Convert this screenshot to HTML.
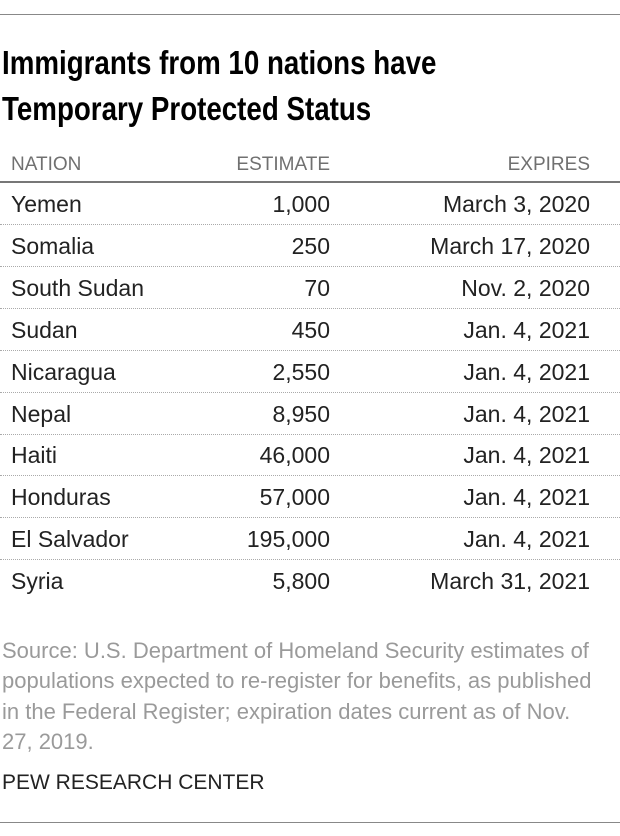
<!DOCTYPE html>
<html><head><meta charset="utf-8">
<style>
html,body{margin:0;padding:0;background:#fff;}
body{width:620px;height:836px;position:relative;overflow:hidden;font-family:"Liberation Sans",sans-serif;}
.rule{position:absolute;left:0;width:620px;}
.title{position:absolute;left:2px;top:40px;font-weight:bold;font-size:33px;line-height:46px;color:#000;transform:scaleX(0.84);transform-origin:0 0;white-space:nowrap;}
.hdr{position:absolute;top:153px;font-size:19px;color:#707070;line-height:24px;}
.cell{position:absolute;font-size:23px;color:#222;line-height:26px;}
.src{position:absolute;left:2px;top:636px;font-size:22px;line-height:30.3px;color:#9a9a9a;white-space:nowrap;}
.pew{position:absolute;left:2px;top:771px;font-size:21px;color:#222;}
</style></head><body>
<div class="rule" style="top:14px;border-top:1px solid #888;"></div>
<div class="title">Immigrants from 10 nations have<br>Temporary Protected Status</div>
<div class="hdr" style="left:11px;">NATION</div>
<div class="hdr" style="right:290px;">ESTIMATE</div>
<div class="hdr" style="right:30px;">EXPIRES</div>
<div class="rule" style="top:181px;border-top:2px solid #777;"></div>
<div id="rows"></div>
<div class="src">Source: U.S. Department of Homeland Security estimates of<br>populations expected to re-register for benefits, as published<br>in the Federal Register; expiration dates current as of Nov.<br>27, 2019.</div>
<div class="pew">PEW RESEARCH CENTER</div>
<div class="rule" style="top:822px;border-top:1px solid #888;"></div>
<script>
const nations=["Yemen","Somalia","South Sudan","Sudan","Nicaragua","Nepal","Haiti","Honduras","El Salvador","Syria"];
const estimates=["1,000","250","70","450","2,550","8,950","46,000","57,000","195,000","5,800"];
const expires=["March 3, 2020","March 17, 2020","Nov. 2, 2020","Jan. 4, 2021","Jan. 4, 2021","Jan. 4, 2021","Jan. 4, 2021","Jan. 4, 2021","Jan. 4, 2021","March 31, 2021"];
const root=document.getElementById('rows');
for(let i=0;i<nations.length;i++){
  const cy=204+i*41.9;
  const a=document.createElement('div');a.className='cell';a.style.left='11px';a.style.top=(cy-13)+'px';a.textContent=nations[i];
  
  
  root.appendChild(a);
  const b=document.createElement('div');b.className='cell';b.style.right='290px';b.style.top=(cy-13)+'px';b.textContent=estimates[i];
  
  
  root.appendChild(b);
  const c=document.createElement('div');c.className='cell';c.style.right='30px';c.style.top=(cy-13)+'px';c.textContent=expires[i];
  
  
  root.appendChild(c);
  if(i<nations.length-1){
    const d=document.createElement('div');d.className='rule';d.style.top=(cy+20)+'px';d.style.borderTop='1px dotted #aaa';
    
    
    root.appendChild(d);
  }
}
</script>
</body></html>
